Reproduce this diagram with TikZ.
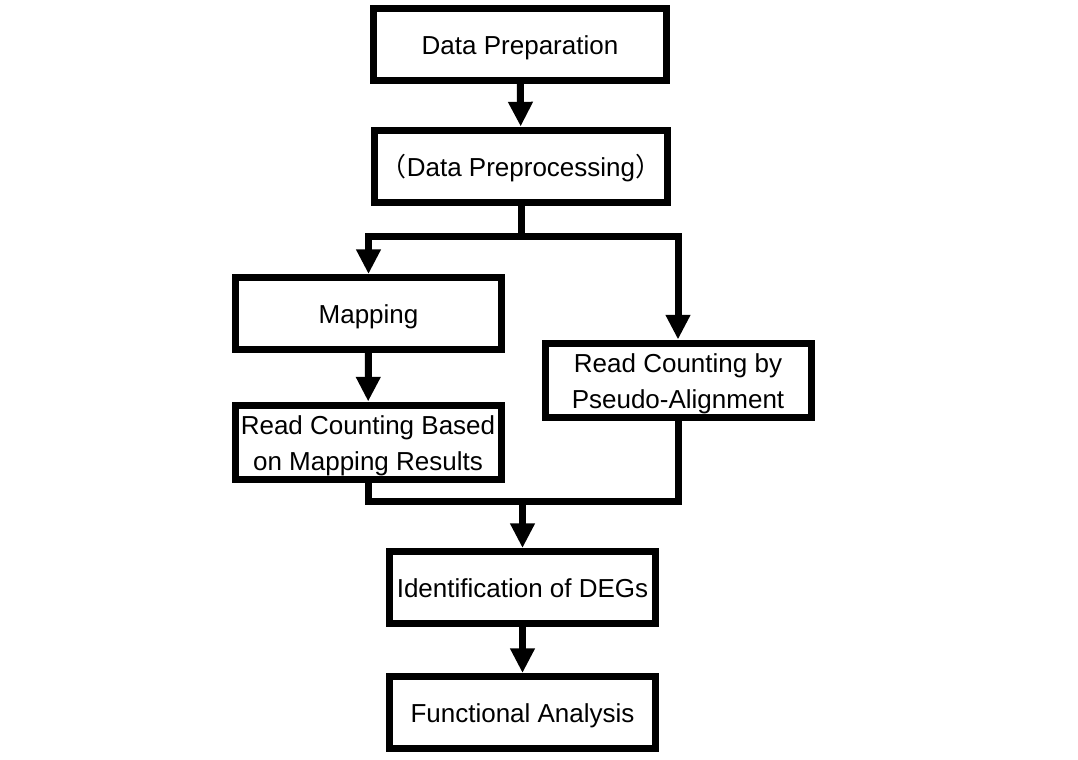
\documentclass[tikz,border=0pt]{standalone}
\usepackage{fontspec}
\setmainfont{Liberation Sans}
\newfontfamily\cjk{Noto Sans CJK JP}
\usetikzlibrary{arrows.meta}
\newcommand\boxtxt[1]{\raisebox{-2.25pt}[\height][\depth]{\begin{tabular}{@{}c@{}}#1\end{tabular}}}
\tikzset{
  box/.style={draw, line width=5.25pt, rectangle, inner sep=0pt,
    minimum width=199.5pt, minimum height=54pt,
    font=\fontsize{19.5pt}{27pt}\selectfont},
  widebox/.style={box, minimum width=219.75pt},
  conn/.style={line width=5.25pt},
  arr/.style={conn, -{Triangle[length=18.5pt,width=17.5pt]}}
}
\begin{document}
\begin{tikzpicture}[x=0.75pt,y=-0.75pt]
\useasboundingbox (0,0) rectangle (1078,760);
\node[widebox] (prep) at (520,44) {\boxtxt{Data Preparation}};
\node[widebox] (pre) at (521,166) {\boxtxt{{\cjk （}Data Preprocessing{\cjk ）}}};
\node[box] (map) at (368.5,313.5) {\boxtxt{Mapping}};
\node[box, minimum height=55.5pt] (rc) at (368,442) {\boxtxt{Read Counting Based\\on Mapping Results}};
\node[box, minimum height=55.5pt] (pa) at (678,380) {\boxtxt{Read Counting by\\Pseudo-Alignment}};
\node[box] (deg) at (522.5,587.5) {\boxtxt{Identification of DEGs}};
\node[box] (fa) at (522.5,712.5) {\boxtxt{Functional Analysis}};
\coordinate (split) at (521,236);
\coordinate (merge) at (522.5,501.5);
\draw[arr] (prep) -- (pre);
\draw[conn] (pre.south) -- (split);
\draw[arr] (split) -| (map.north);
\draw[arr] (split) -| (pa.north);
\draw[arr] (map) -- (rc);
\draw[conn] (rc.south) |- (merge);
\draw[conn] (pa.south) |- (merge);
\draw[arr] (merge) -- (deg.north);
\draw[arr] (deg) -- (fa);
\end{tikzpicture}
\end{document}
